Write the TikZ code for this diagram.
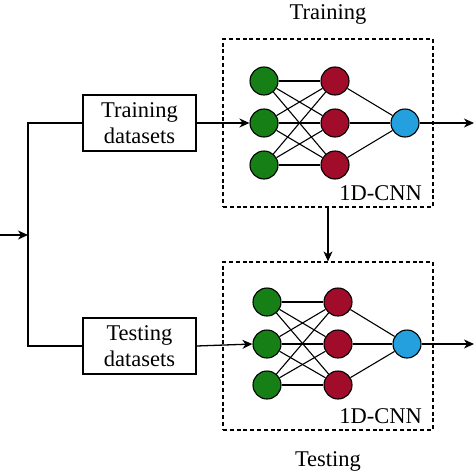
\documentclass[tikz,border=0pt]{standalone}
\usepackage{fontspec}
\setmainfont{Liberation Serif}
\usetikzlibrary{arrows.meta}
\definecolor{ngreen}{RGB}{22,128,22}
\definecolor{nred}{RGB}{160,12,42}
\definecolor{nblue}{RGB}{36,160,222}
\begin{document}
\begin{tikzpicture}[x=1pt,y=-1pt,
  font=\fontsize{22.5}{26}\selectfont,
  neuron/.style={circle, draw=black, line width=1.1pt, minimum size=28pt, inner sep=0pt},
  gn/.style={neuron, fill=ngreen},
  rn/.style={neuron, fill=nred},
  bn/.style={neuron, fill=nblue},
  databox/.style={draw, line width=1.3pt, minimum width=113pt, minimum height=56pt, align=center, inner sep=0pt},
  frame/.style={draw, line width=1.2pt, dash pattern=on 4pt off 2.8pt, minimum width=210pt, minimum height=168pt, inner sep=0pt},
  conn/.style={line width=1.1pt},
  flow/.style={line width=1.3pt},
  arr/.style={flow, -{Stealth[length=10pt,width=9pt,inset=3pt]}}
]
\useasboundingbox (0,0) rectangle (474,474);

% frames
\node[frame] (f1) at (328,123) {};
\node[frame] (f2) at (328,346) {};

% top network
\node[gn] (a1) at (264,81) {};
\node[gn] (a2) at (264,123) {};
\node[gn] (a3) at (264,165) {};
\node[rn] (b1) at (335,81) {};
\node[rn] (b2) at (335,123) {};
\node[rn] (b3) at (335,165) {};
\node[bn] (c1) at (405,123) {};
% bottom network
\node[gn] (d1) at (267,302) {};
\node[gn] (d2) at (267,344) {};
\node[gn] (d3) at (267,385) {};
\node[rn] (e1) at (338,302) {};
\node[rn] (e2) at (338,344) {};
\node[rn] (e3) at (338,385) {};
\node[bn] (h1) at (407,344) {};

\foreach \i in {1,2,3}{
  \foreach \j in {1,2,3}{
    \draw[conn] (a\i) -- (b\j);
    \draw[conn] (d\i) -- (e\j);
  }
  \draw[conn] (b\i) -- (c1);
  \draw[conn] (e\i) -- (h1);
}

% labels
\node[anchor=base] (lt) at (328,19) {Training};
\node[anchor=base] (ls) at (328,466) {Testing};
\node[anchor=base east, inner sep=0pt] (n1) at (422,200) {1D-CNN};
\node[anchor=base east, inner sep=0pt] (n2) at (422,423) {1D-CNN};

% data boxes
\node[databox] (tr) at (139.5,123) {Training\\datasets};
\node[databox] (te) at (139.5,346) {Testing\\datasets};

% left splitting
\coordinate (in) at (0,235);
\coordinate (sp) at (28,235);
\coordinate (st) at (28,123);
\coordinate (sb) at (28,346);
\draw[arr] (in) -- (sp);
\draw[flow] (tr.west) -- (st) -- (sb) -- (te.west);

% arrows
\draw[arr] (tr.east) -- (a2.west);
\draw[arr] (te.east) -- (d2.west);
\coordinate (o1) at (474,123);
\coordinate (o2) at (474,344);
\draw[arr] (c1.east) -- (o1);
\draw[arr] (h1.east) -- (o2);
\draw[arr] (f1.south) -- (f2.north);
\end{tikzpicture}
\end{document}
